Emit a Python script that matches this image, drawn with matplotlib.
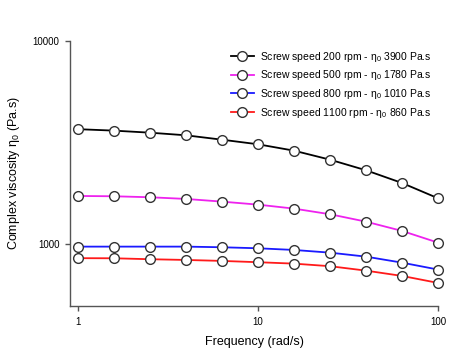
import matplotlib
matplotlib.use("Agg")
import matplotlib.pyplot as plt
from matplotlib.ticker import FixedLocator, NullLocator, FixedFormatter

plt.rcParams['font.family'] = ['Liberation Sans', 'DejaVu Sans']

freq = [1, 1.585, 2.512, 3.981, 6.310, 10, 15.85, 25.12, 39.81, 63.10, 100]
visc_200 = [3670, 3610, 3527, 3424, 3258, 3093, 2877, 2598, 2304, 1995, 1678]
visc_500 = [1722, 1716, 1697, 1665, 1615, 1561, 1492, 1400, 1287, 1159, 1015]
visc_800 = [970, 970, 970, 970, 963, 952, 934, 906, 866, 809, 748]
visc_1100 = [851, 850, 841, 834, 825, 813, 800, 777, 739, 696, 643]

labels = [r"Screw speed 200 rpm - $\mathregular{\eta_0}$ 3900 Pa.s",
          r"Screw speed 500 rpm - $\mathregular{\eta_0}$ 1780 Pa.s",
          r"Screw speed 800 rpm - $\mathregular{\eta_0}$ 1010 Pa.s",
          r"Screw speed 1100 rpm - $\mathregular{\eta_0}$ 860 Pa.s"]
colors = ["#000000", "#ee22ee", "#1a1aff", "#ff1a1a"]
xticks = [1, 10, 100]
yticks = [1000, 10000]

fig = plt.figure(figsize=(4.74, 3.53), dpi=100)
W, H = 474, 353
ax = fig.add_axes([70 / W, 1 - 306 / H, (438 - 70) / W, (306 - 40.7) / H])

for y, c, lab in zip([visc_200, visc_500, visc_800, visc_1100], colors, labels):
    ax.plot(freq, y, color=c, lw=1.3, marker='o', ms=7, mfc='white',
            mec='#333333', mew=1.0, label=lab, clip_on=False, zorder=3)

ax.set_xscale('log')
ax.set_yscale('log')
ax.set_xlim(0.903, 100)
ax.set_ylim(495, 10000)
ax.xaxis.set_major_locator(FixedLocator(xticks))
ax.xaxis.set_major_formatter(FixedFormatter([str(v) for v in xticks]))
ax.xaxis.set_minor_locator(NullLocator())
ax.yaxis.set_major_locator(FixedLocator(yticks))
ax.yaxis.set_major_formatter(FixedFormatter([str(v) for v in yticks]))
ax.yaxis.set_minor_locator(NullLocator())

for s in ['top', 'right']:
    ax.spines[s].set_visible(False)
for s in ['left', 'bottom']:
    ax.spines[s].set_color('#555555')
    ax.spines[s].set_linewidth(1.0)
ax.tick_params(axis='both', direction='out', length=3.6, width=1.0, color='#555555',
               labelsize=7, pad=4)

ax.set_xlabel("Frequency (rad/s)", fontsize=9, labelpad=7)
ax.set_ylabel(r"Complex viscosity $\mathregular{\eta_0}$ (Pa.s)", fontsize=9, labelpad=7.5)

ax.legend(loc='upper left', bbox_to_anchor=(231 / W, 1 - 49.5 / H),
          bbox_transform=fig.transFigure, frameon=False, fontsize=7.5,
          handlelength=2.2, handletextpad=0.6, labelspacing=0.45,
          borderpad=0, borderaxespad=0)

fig.savefig("out.png", dpi=100)
